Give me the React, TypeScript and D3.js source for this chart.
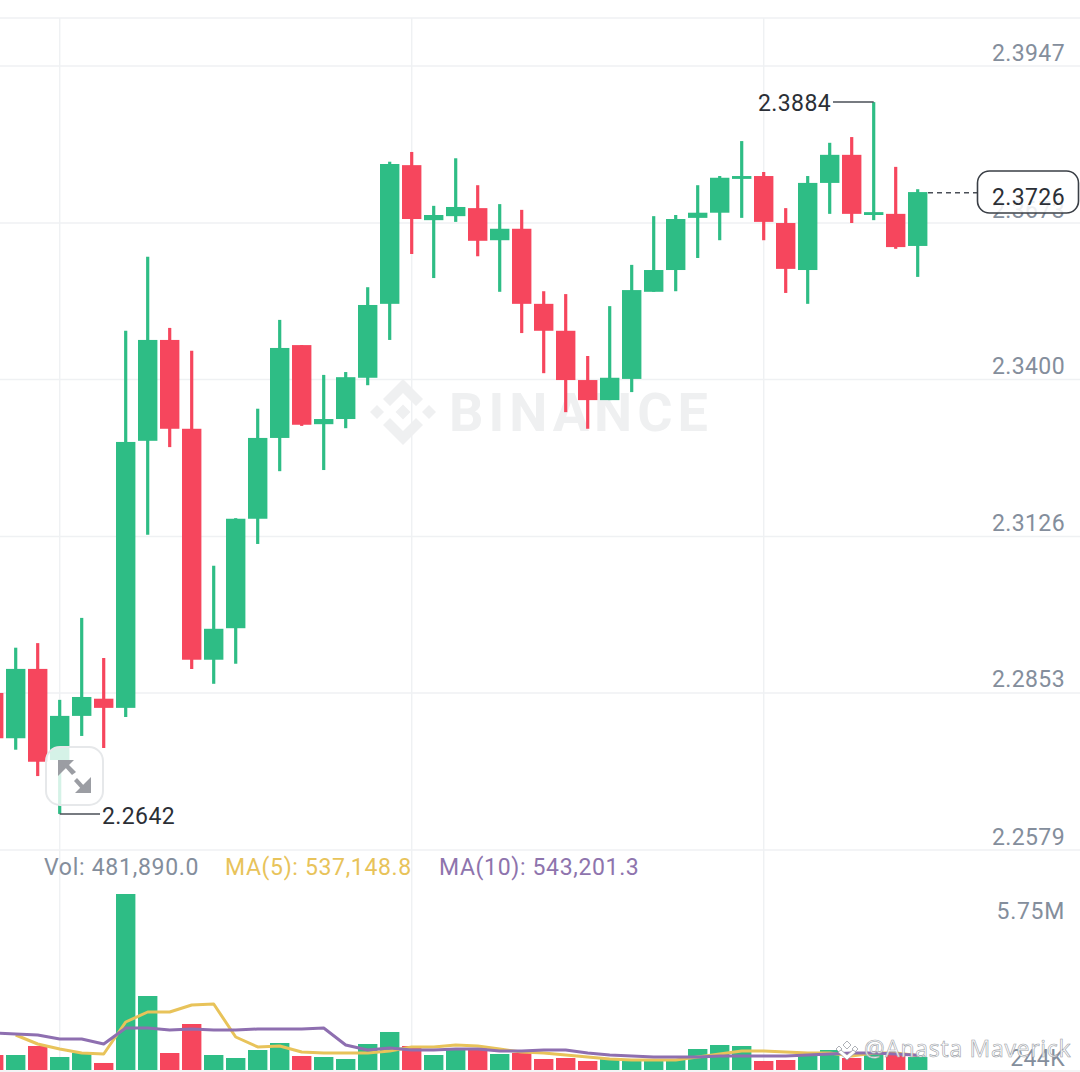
import React, { useEffect, useRef } from "react";
import * as d3 from "d3";

const opens = [2.2853, 2.2774, 2.2895, 2.2736, 2.2813, 2.2843, 2.2827, 2.3293, 2.3469, 2.3314, 2.2911, 2.2966, 2.3157, 2.3298, 2.346, 2.3322, 2.3331, 2.3403, 2.3532, 2.3774, 2.3678, 2.3685, 2.3699, 2.3643, 2.3663, 2.3532, 2.3485, 2.3399, 2.3364, 2.3401, 2.3553, 2.3591, 2.3682, 2.3691, 2.375, 2.3755, 2.3673, 2.3591, 2.3743, 2.3792, 2.3687, 2.3689, 2.3633];
const highs = [2.2853, 2.2932, 2.294, 2.2841, 2.2984, 2.2914, 2.3485, 2.3614, 2.349, 2.345, 2.3075, 2.3158, 2.3349, 2.3504, 2.346, 2.3408, 2.3413, 2.3561, 2.378, 2.3797, 2.3703, 2.3786, 2.3739, 2.3706, 2.3696, 2.3554, 2.3549, 2.3441, 2.3528, 2.36, 2.3685, 2.3687, 2.3739, 2.3755, 2.3816, 2.3762, 2.3699, 2.3755, 2.3813, 2.3823, 2.3884, 2.3771, 2.3732];
const lows = [2.2762, 2.2754, 2.2708, 2.2642, 2.2778, 2.2757, 2.2811, 2.3129, 2.3282, 2.2895, 2.2869, 2.2904, 2.3113, 2.324, 2.3319, 2.3242, 2.3315, 2.339, 2.3469, 2.3619, 2.3577, 2.3675, 2.3615, 2.3553, 2.3481, 2.3411, 2.3343, 2.3314, 2.3364, 2.3378, 2.3553, 2.3554, 2.3612, 2.3643, 2.3682, 2.3643, 2.3551, 2.3532, 2.3689, 2.3673, 2.3678, 2.3628, 2.3579];
const closes = [2.2774, 2.2895, 2.2733, 2.2813, 2.2846, 2.2827, 2.3291, 2.3469, 2.3314, 2.2911, 2.2965, 2.3157, 2.3298, 2.3455, 2.3321, 2.3331, 2.3404, 2.353, 2.3776, 2.368, 2.3687, 2.3701, 2.3642, 2.3663, 2.3532, 2.3485, 2.3399, 2.3364, 2.3403, 2.3556, 2.3591, 2.368, 2.3691, 2.3752, 2.3755, 2.3675, 2.3593, 2.3743, 2.3792, 2.3689, 2.3692, 2.3631, 2.3727];

// volumes in thousands
const volumes = [556, 556, 890, 482, 630, 260, 6524, 2743, 630, 1705, 556, 445, 741, 1001, 519, 482, 408, 964, 1409, 890, 556, 741, 816, 593, 630, 408, 445, 334, 408, 408, 371, 371, 778, 927, 890, 334, 371, 556, 741, 445, 630, 630, 482];
const ma5 = [null, 1297, 964, 778, 630, 593, 1779, 2150, 2150, 2410, 2447, 1223, 853, 890, 667, 630, 630, 630, 704, 853, 853, 927, 890, 778, 667, 630, 556, 482, 408, 371, 371, 371, 482, 593, 704, 704, 667, 630, 630, 519, 630, 630, 537];
const ma10 = [1372, 1335, 1297, 1149, 1149, 964, 1557, 1557, 1483, 1520, 1483, 1483, 1520, 1520, 1520, 1557, 927, 741, 816, 741, 741, 778, 778, 704, 704, 741, 741, 630, 556, 519, 482, 482, 482, 519, 519, 519, 519, 556, 593, 630, 630, 593, 543];

const priceTicks = [2.3947, 2.3673, 2.34, 2.3126, 2.2853, 2.2579];
const timeGridIndex = [3, 19, 35];
const lastPrice = 2.3726;
const highMark = { index: 40, value: 2.3884 };
const lowMark = { index: 3, value: 2.2642 };

const GREEN = "#2ebd85";
const RED = "#f6465d";
const GRID = "#eff1f3";
const AXIS_TEXT = "#848e9c";
const DARK = "#2b2f36";
const FONT = "Roboto, sans-serif";

const App: React.FC = () => {
  const svgRef = useRef<SVGSVGElement | null>(null);

  useEffect(() => {
    if (!svgRef.current) return;
    const svg = d3.select(svgRef.current);
    svg.selectAll("*").remove();

    const x = d3.scaleLinear().domain([0, 42]).range([-6.3, 917.7]);
    const y = d3.scaleLinear().domain([2.2579, 2.3947]).range([850, 66]);
    const yVol = d3.scaleLinear().domain([0, 6524]).range([1070, 894]);
    const indices = d3.range(opens.length);

    const label = (
      px: number,
      py: number,
      text: string,
      color: string,
      anchor = "start",
      spacing = 0.4,
    ) =>
      svg
        .append("text")
        .attr("x", px)
        .attr("y", py)
        .attr("fill", color)
        .attr("text-anchor", anchor)
        .attr("font-family", FONT)
        .attr("font-size", 23)
        .attr("letter-spacing", spacing)
        .text(text);

    // grid
    svg
      .append("line")
      .attr("x1", 0)
      .attr("x2", 1080)
      .attr("y1", 18)
      .attr("y2", 18)
      .attr("stroke", GRID)
      .attr("stroke-width", 1.5);
    svg
      .selectAll(".hgrid")
      .data(priceTicks)
      .enter()
      .append("line")
      .attr("x1", 0)
      .attr("x2", 1080)
      .attr("y1", (d) => y(d))
      .attr("y2", (d) => y(d))
      .attr("stroke", GRID)
      .attr("stroke-width", 1.5);
    svg
      .selectAll(".vgrid")
      .data(timeGridIndex)
      .enter()
      .append("line")
      .attr("x1", (d) => x(d))
      .attr("x2", (d) => x(d))
      .attr("y1", 18)
      .attr("y2", 1070)
      .attr("stroke", GRID)
      .attr("stroke-width", 1.5);
    svg
      .append("line")
      .attr("x1", 0)
      .attr("x2", 1080)
      .attr("y1", 1071)
      .attr("y2", 1071)
      .attr("stroke", GRID)
      .attr("stroke-width", 1.5);

    // watermark
    const logo = svg
      .append("g")
      .attr("transform", "translate(403,412)")
      .attr("fill", "#eff0f1");
    logo.append("path").attr("d", "M0,-7.5L7.5,0L0,7.5L-7.5,0Z");
    logo.append("path").attr("d", "M-26,-7L-19,0L-26,7L-33,0Z");
    logo.append("path").attr("d", "M26,-7L33,0L26,7L19,0Z");
    logo
      .append("path")
      .attr("d", "M0,-33L20,-13L13,-6L0,-19L-13,-6L-20,-13Z");
    logo.append("path").attr("d", "M0,33L20,13L13,6L0,19L-13,6L-20,13Z");
    svg
      .append("text")
      .attr("x", 449)
      .attr("y", 431)
      .attr("fill", "#eff0f1")
      .attr("font-family", FONT)
      .attr("font-weight", 700)
      .attr("font-size", 54)
      .attr("letter-spacing", 5)
      .text("BINANCE");

    // candles
    const colorOf = (i: number) => (closes[i] >= opens[i] ? GREEN : RED);
    svg
      .selectAll(".wick")
      .data(indices)
      .enter()
      .append("line")
      .attr("x1", (i) => x(i))
      .attr("x2", (i) => x(i))
      .attr("y1", (i) => y(highs[i]))
      .attr("y2", (i) => y(lows[i]))
      .attr("stroke", colorOf)
      .attr("stroke-width", 3.2);
    svg
      .selectAll(".body")
      .data(indices)
      .enter()
      .append("rect")
      .attr("x", (i) => x(i) - 9.7)
      .attr("width", 19.4)
      .attr("y", (i) => y(Math.max(opens[i], closes[i])))
      .attr("height", (i) =>
        Math.max(2.5, Math.abs(y(opens[i]) - y(closes[i]))),
      )
      .attr("fill", colorOf);

    // volume
    svg
      .selectAll(".vol")
      .data(indices)
      .enter()
      .append("rect")
      .attr("x", (i) => x(i) - 9.7)
      .attr("width", 19.4)
      .attr("y", (i) => yVol(volumes[i]))
      .attr("height", (i) => yVol(0) - yVol(volumes[i]))
      .attr("fill", colorOf);

    const maLine = d3
      .line<number | null>()
      .defined((d) => d !== null)
      .x((_, i) => x(i))
      .y((d) => yVol(d as number));
    svg
      .append("path")
      .attr("d", maLine(ma5))
      .attr("fill", "none")
      .attr("stroke", "#e8c35a")
      .attr("stroke-width", 3)
      .attr("stroke-linejoin", "round");
    svg
      .append("path")
      .attr("d", maLine(ma10))
      .attr("fill", "none")
      .attr("stroke", "#8e6fb0")
      .attr("stroke-width", 3)
      .attr("stroke-linejoin", "round");

    // axis labels
    priceTicks.forEach((t) => {
      label(1065, y(t) - 5.5, t.toFixed(4), AXIS_TEXT, "end");
    });
    label(1065, 919, "5.75M", AXIS_TEXT, "end", 0.7);
    label(1065, 1066, "244K", AXIS_TEXT, "end");

    // legend
    label(44, 875, "Vol: 481,890.0", AXIS_TEXT, "start", 0.72);
    label(225, 875, "MA(5): 537,148.8", "#e8c35a", "start", 0.65);
    label(439, 875, "MA(10): 543,201.3", "#8e74ad", "start", 0.65);

    // high and low marks
    const hy = y(highMark.value);
    svg
      .append("line")
      .attr("x1", 833)
      .attr("x2", x(highMark.index))
      .attr("y1", hy)
      .attr("y2", hy)
      .attr("stroke", "#4a4f57")
      .attr("stroke-width", 1.5);
    label(758, hy + 9, highMark.value.toFixed(4), DARK);
    const ly = y(lowMark.value);
    svg
      .append("line")
      .attr("x1", x(lowMark.index))
      .attr("x2", 100)
      .attr("y1", ly)
      .attr("y2", ly)
      .attr("stroke", "#4a4f57")
      .attr("stroke-width", 1.5);
    label(102, ly + 10, lowMark.value.toFixed(4), DARK);

    // last price tag
    const py = y(lastPrice);
    svg
      .append("line")
      .attr("x1", 928)
      .attr("x2", 978)
      .attr("y1", py)
      .attr("y2", py)
      .attr("stroke", "#4a4f57")
      .attr("stroke-width", 1.5)
      .attr("stroke-dasharray", "5 4");
    svg
      .append("rect")
      .attr("x", 977.5)
      .attr("y", 171)
      .attr("width", 101)
      .attr("height", 42)
      .attr("rx", 12)
      .attr("fill", "#fff")
      .attr("fill-opacity", 0.85)
      .attr("stroke", "#3a3f46")
      .attr("stroke-width", 1.6);
    label(1065, 205, lastPrice.toFixed(4), DARK, "end");

    // expand button
    svg
      .append("rect")
      .attr("x", 46)
      .attr("y", 747)
      .attr("width", 57)
      .attr("height", 58)
      .attr("rx", 14)
      .attr("fill", "#fff")
      .attr("fill-opacity", 0.8)
      .attr("stroke", "#e6e8ea")
      .attr("stroke-width", 2);
    const arrow = svg.append("g").attr("fill", "#9b9da3");
    arrow.append("path").attr("d", "M58,760L74,760L58,776Z");
    arrow.append("path").attr("d", "M91,793L75,793L91,777Z");
    arrow.append("path").attr("d", "M63,765L66,762L76,772L72,775Z");
    arrow.append("path").attr("d", "M86,788L83,791L74,781L77,778Z");

    // author mark
    svg
      .append("text")
      .attr("x", 864)
      .attr("y", 1057)
      .attr("fill", "#ffffff")
      .attr("fill-opacity", 0.85)
      .attr("stroke", "#9a9ea6")
      .attr("stroke-width", 0.6)
      .attr("font-family", "'Open Sans', sans-serif")
      .attr("font-size", 23)
      .attr("letter-spacing", 0.7)
      .text("@Anasta Maverick");
    const mark = svg
      .append("g")
      .attr("transform", "translate(847,1050)")
      .attr("fill", "#ffffff")
      .attr("stroke", "#9a9ea6")
      .attr("stroke-width", 0.8);
    mark.append("path").attr("d", "M0,-9L4,-5L0,-1L-4,-5Z");
    mark.append("path").attr("d", "M-8,-4L-5,-1L-8,2L-11,-1Z");
    mark.append("path").attr("d", "M8,-4L11,-1L8,2L5,-1Z");
    mark.append("path").attr("d", "M0,10L9,2L6,0L0,5L-6,0L-9,2Z");
  }, []);

  return (
    <svg
      ref={svgRef}
      width="1080"
      height="1072"
      style={{ position: "absolute", left: 0, top: 0, background: "#fff" }}
    ></svg>
  );
};

export default App;
